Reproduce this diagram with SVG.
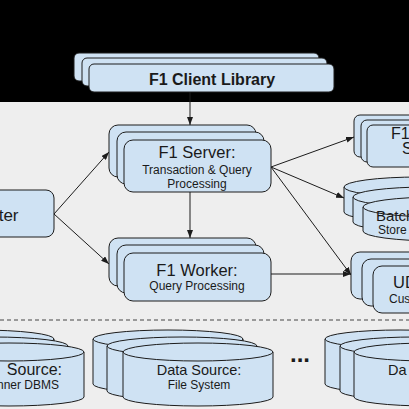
<svg xmlns="http://www.w3.org/2000/svg" width="409" height="409" viewBox="0 0 409 409">
<defs>
<style>
.b{fill:#cfe2f3;stroke:#1c1c1c;stroke-width:1}
.c{stroke:#1c1c1c;stroke-width:1;fill:none}
.t{font-family:"Liberation Sans",Arial,sans-serif;fill:#1a1a1a}
.big{font-size:16.5px}
.sm{font-size:12px}
.ds{font-size:14.5px}
</style>
<marker id="ah" viewBox="0 0 8 6" refX="8" refY="3" markerWidth="8" markerHeight="6" markerUnits="userSpaceOnUse" orient="auto"><path d="M0,0 L8,3 L0,6 z" fill="#1c1c1c"/></marker>
</defs>
<rect x="0" y="0" width="409" height="102" fill="#000"/>
<rect x="0" y="102" width="409" height="307" fill="#eeeeee"/>

<g id="connectors">
<line class="c" x1="190" y1="92" x2="190" y2="125" marker-end="url(#ah)"/>
<line class="c" x1="190" y1="192" x2="190" y2="238" marker-end="url(#ah)"/>
<line class="c" x1="54" y1="214" x2="109" y2="152" marker-end="url(#ah)"/>
<line class="c" x1="54" y1="214" x2="109" y2="264" marker-end="url(#ah)"/>
<line class="c" x1="271" y1="167" x2="354" y2="137" marker-end="url(#ah)"/>
<line class="c" x1="271" y1="167" x2="344" y2="198" marker-end="url(#ah)"/>
<line class="c" x1="271" y1="167" x2="351" y2="275" marker-end="url(#ah)"/>
<line class="c" x1="271" y1="274" x2="351" y2="274" marker-end="url(#ah)"/>
<line x1="0" y1="320" x2="409" y2="320" stroke="#444" stroke-width="1" stroke-dasharray="4,3"/>
</g>

<g id="client">
<rect class="b" x="74" y="53" width="245" height="28" rx="5"/>
<rect class="b" x="82" y="58" width="245" height="28" rx="5"/>
<rect class="b" x="89" y="64" width="245" height="28" rx="5"/>
<text class="t" x="212" y="85" font-size="16" font-weight="bold" text-anchor="middle">F1 Client Library</text>
</g>

<g id="master">
<rect class="b" x="-90" y="190" width="144" height="47" rx="8"/>
<text class="t" x="18.5" y="221" font-size="17" text-anchor="end">ter</text>
</g>

<g id="server">
<rect class="b" x="109" y="125" width="147" height="52" rx="9"/>
<rect class="b" x="117" y="132" width="147" height="52" rx="9"/>
<rect class="b" x="124" y="140" width="147" height="52" rx="9"/>
<text class="t big" x="197" y="158" text-anchor="middle">F1 Server:</text>
<text class="t sm" x="197" y="174" text-anchor="middle">Transaction &amp; Query</text>
<text class="t sm" x="197" y="188" text-anchor="middle">Processing</text>
</g>

<g id="worker">
<rect class="b" x="109" y="238" width="147" height="48" rx="9"/>
<rect class="b" x="117" y="245" width="147" height="48" rx="9"/>
<rect class="b" x="124" y="253" width="147" height="48" rx="9"/>
<text class="t big" x="197" y="276" text-anchor="middle">F1 Worker:</text>
<text class="t sm" x="197" y="290" text-anchor="middle">Query Processing</text>
</g>

<g id="f1s">
<rect class="b" x="354" y="115" width="150" height="42" rx="6"/>
<rect class="b" x="361" y="120" width="150" height="42" rx="6"/>
<rect class="b" x="367" y="125" width="150" height="42" rx="6"/>
<text class="t" x="391" y="139" font-size="16">F1</text>
<text class="t" x="402" y="154" font-size="16">S</text>
</g>

<g id="batch">
<path class="b" d="M344,187 V212 A75,10 0 0 0 494,212 V187 Z"/>
<ellipse class="b" cx="419" cy="187" rx="75" ry="10"/>
<path class="b" d="M353,197 V222 A75,10 0 0 0 503,222 V197 Z"/>
<ellipse class="b" cx="428" cy="197" rx="75" ry="10"/>
<path class="b" d="M363,207 V231 A75,10 0 0 0 513,231 V207 Z"/>
<ellipse class="b" cx="438" cy="207" rx="75" ry="10"/>
<text class="t" x="376" y="221" font-size="15">Batch</text>
<text class="t sm" x="378" y="234">Store</text>
</g>

<g id="udf">
<rect class="b" x="351" y="252" width="150" height="47" rx="9"/>
<rect class="b" x="362" y="259" width="150" height="47" rx="9"/>
<rect class="b" x="373" y="266" width="150" height="47" rx="9"/>
<text class="t big" x="393" y="288">UD</text>
<text class="t sm" x="389" y="303">Cust</text>
</g>

<g id="src-spanner">
<path class="b" d="M-96,339 V384 A75,9 0 0 0 54,384 V339 Z"/>
<ellipse class="b" cx="-21" cy="339" rx="75" ry="9"/>
<path class="b" d="M-82,346 V391 A75,9 0 0 0 68,391 V346 Z"/>
<ellipse class="b" cx="-7" cy="346" rx="75" ry="9"/>
<path class="b" d="M-66,352 V397 A75,9 0 0 0 84,397 V352 Z"/>
<ellipse class="b" cx="9" cy="352" rx="75" ry="9"/>
<text class="t" x="62" y="375" font-size="16" text-anchor="end">Source:</text>
<text class="t sm" x="59" y="389" text-anchor="end">nner DBMS</text>
</g>

<g id="src-file">
<path class="b" d="M93,339 V384 A75,9 0 0 0 243,384 V339 Z"/>
<ellipse class="b" cx="168" cy="339" rx="75" ry="9"/>
<path class="b" d="M107,346 V391 A75,9 0 0 0 257,391 V346 Z"/>
<ellipse class="b" cx="182" cy="346" rx="75" ry="9"/>
<path class="b" d="M123,352 V397 A75,9 0 0 0 273,397 V352 Z"/>
<ellipse class="b" cx="198" cy="352" rx="75" ry="9"/>
<text class="t ds" x="199" y="375" text-anchor="middle">Data Source:</text>
<text class="t sm" x="199" y="389" text-anchor="middle">File System</text>
</g>

<g id="src-other">
<path class="b" d="M325,339 V384 A75,9 0 0 0 475,384 V339 Z"/>
<ellipse class="b" cx="400" cy="339" rx="75" ry="9"/>
<path class="b" d="M340,346 V391 A75,9 0 0 0 490,391 V346 Z"/>
<ellipse class="b" cx="415" cy="346" rx="75" ry="9"/>
<path class="b" d="M354,352 V397 A75,9 0 0 0 504,397 V352 Z"/>
<ellipse class="b" cx="429" cy="352" rx="75" ry="9"/>
<text class="t ds" x="388" y="375">Da</text>
</g>

<text class="t" x="300" y="362" font-size="24" font-weight="bold" text-anchor="middle">...</text>
</svg>
